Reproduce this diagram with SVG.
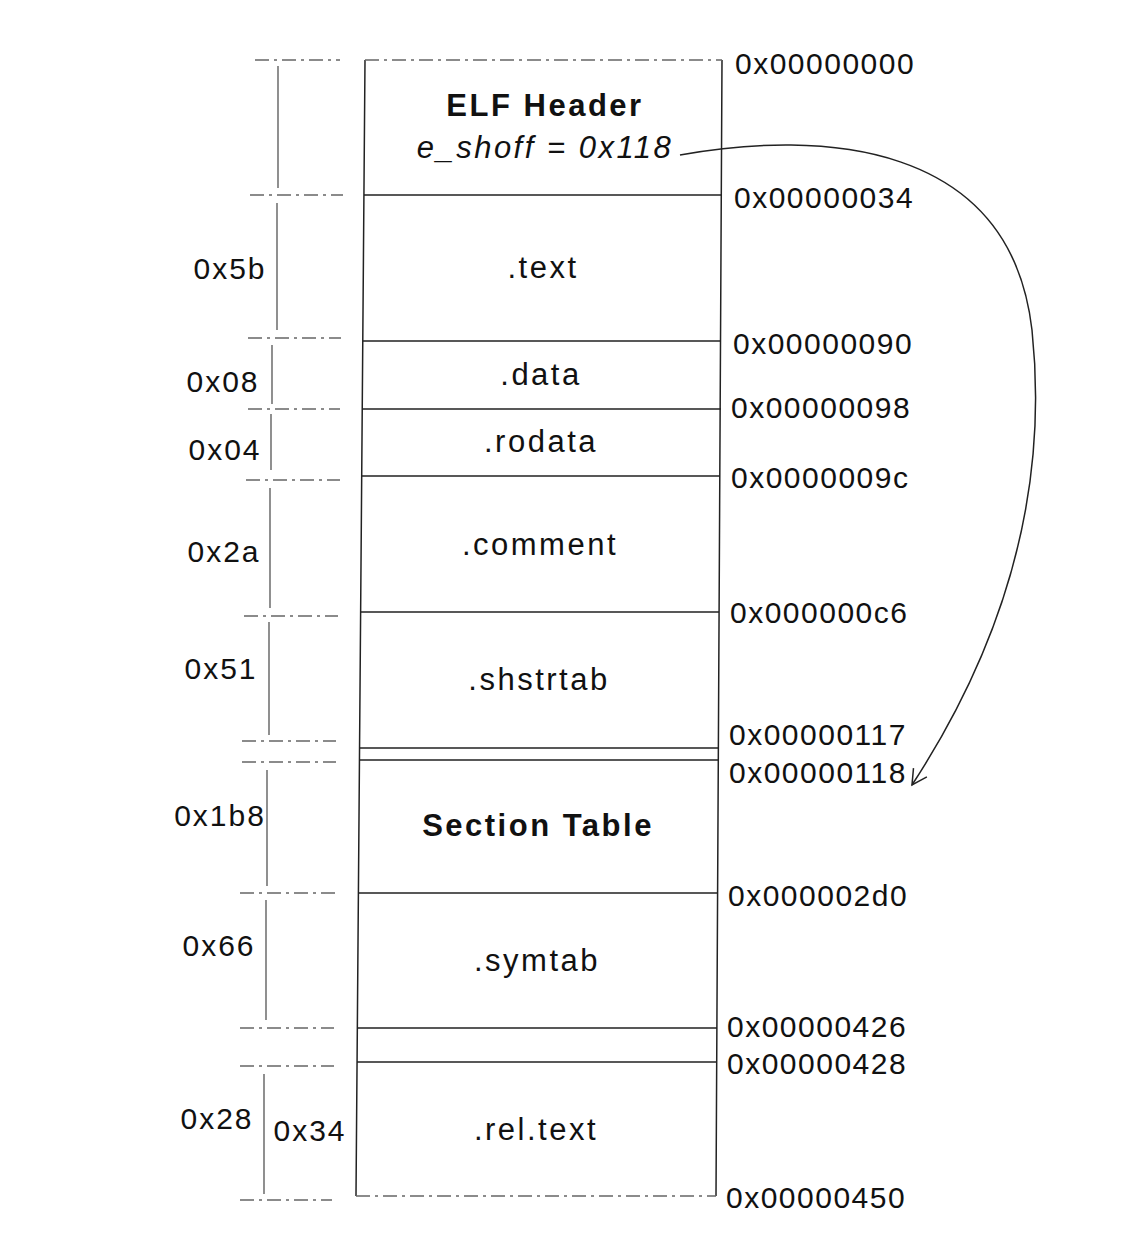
<svg xmlns="http://www.w3.org/2000/svg" width="1146" height="1236" viewBox="0 0 1146 1236">
<style>
text{font-family:"Liberation Sans",Arial,sans-serif;font-size:30px;fill:#111}
.c{text-anchor:middle}
.b{font-weight:bold}
.lb{font-size:31px;letter-spacing:2.5px}
.sz{letter-spacing:2px}
.ad{letter-spacing:1.5px}
.ln{stroke:#222;stroke-width:1.5;fill:none}
.lt{stroke:#555;stroke-width:1.3;fill:none}
.d{stroke:#666;stroke-width:1.3;stroke-dasharray:14 5 3 5;fill:none}
</style>
<defs><marker id="ah" markerWidth="20" markerHeight="20" refX="16" refY="9" orient="auto" markerUnits="userSpaceOnUse"><path d="M1,1 L16,9 L1,17" class="ln"/></marker></defs>
<rect width="1146" height="1236" fill="#fff"/>
<g id="frame">
<path class="ln" d="M365,60 L356,1196 M722,60 L716,1196"/>
<path class="d" d="M365,60 H722 M356,1196 H716"/>
</g>
<g id="dividers">
<path class="ln" d="M364,195 H722 M363,341 H721 M362,409 H721 M361,476 H720 M360,612 H719 M359,748 H719 M359,760 H718 M358,893 H718 M357,1028 H717 M357,1062 H717"/>
</g>
<g id="left-scale">
<path class="d" d="M255,60 H340 M250,195 H343 M248,338 H341 M248,409 H340 M246,480 H340 M244,616 H338 M242,741 H336 M242,762 H336 M240,893 H336 M240,1028 H334 M240,1066 H334 M240,1200 H332"/>
<path class="lt" d="M278,66 V188 M277,203 V330 M272,345 V404 M271,414 V470 M270,488 V608 M269,622 V735 M267,770 V886 M266,900 V1020 M264,1074 V1194"/>
</g>
<g id="n-elf"><text x="545" y="116" class="c b lb">ELF Header</text><text x="545" y="158" class="c lb" font-style="italic">e_shoff = 0x118</text></g>
<g id="n-text"><text x="543" y="278" class="c lb">.text</text></g>
<g id="n-data"><text x="541" y="385" class="c lb">.data</text></g>
<g id="n-rodata"><text x="541" y="452" class="c lb">.rodata</text></g>
<g id="n-comment"><text x="540" y="555" class="c lb">.comment</text></g>
<g id="n-shstrtab"><text x="539" y="690" class="c lb">.shstrtab</text></g>
<g id="n-sectab"><text x="538" y="836" class="c b lb">Section Table</text></g>
<g id="n-symtab"><text x="537" y="971" class="c lb">.symtab</text></g>
<g id="n-reltext"><text x="536" y="1140" class="c lb">.rel.text</text></g>
<g id="sizes">
<text x="230" y="279" class="c sz">0x5b</text>
<text x="223" y="392" class="c sz">0x08</text>
<text x="225" y="460" class="c sz">0x04</text>
<text x="224" y="562" class="c sz">0x2a</text>
<text x="221" y="679" class="c sz">0x51</text>
<text x="220" y="826" class="c sz">0x1b8</text>
<text x="219" y="956" class="c sz">0x66</text>
<text x="217" y="1129" class="c sz">0x28</text>
<text x="310" y="1141" class="c sz">0x34</text>
</g>
<g id="addresses" class="ad">
<text x="735" y="74" class="ad">0x00000000</text>
<text x="734" y="208" class="ad">0x00000034</text>
<text x="733" y="354" class="ad">0x00000090</text>
<text x="731" y="418" class="ad">0x00000098</text>
<text x="731" y="488" class="ad">0x0000009c</text>
<text x="730" y="623" class="ad">0x000000c6</text>
<text x="729" y="745" class="ad">0x00000117</text>
<text x="729" y="783" class="ad">0x00000118</text>
<text x="728" y="906" class="ad">0x000002d0</text>
<text x="727" y="1037" class="ad">0x00000426</text>
<text x="727" y="1074" class="ad">0x00000428</text>
<text x="726" y="1208" class="ad">0x00000450</text>
</g>
<g id="connectors">
<path class="ln" d="M680,155 C820,130 1010,140 1032,330 C1050,500 1000,650 912,785" marker-end="url(#ah)"/>
</g>
</svg>
